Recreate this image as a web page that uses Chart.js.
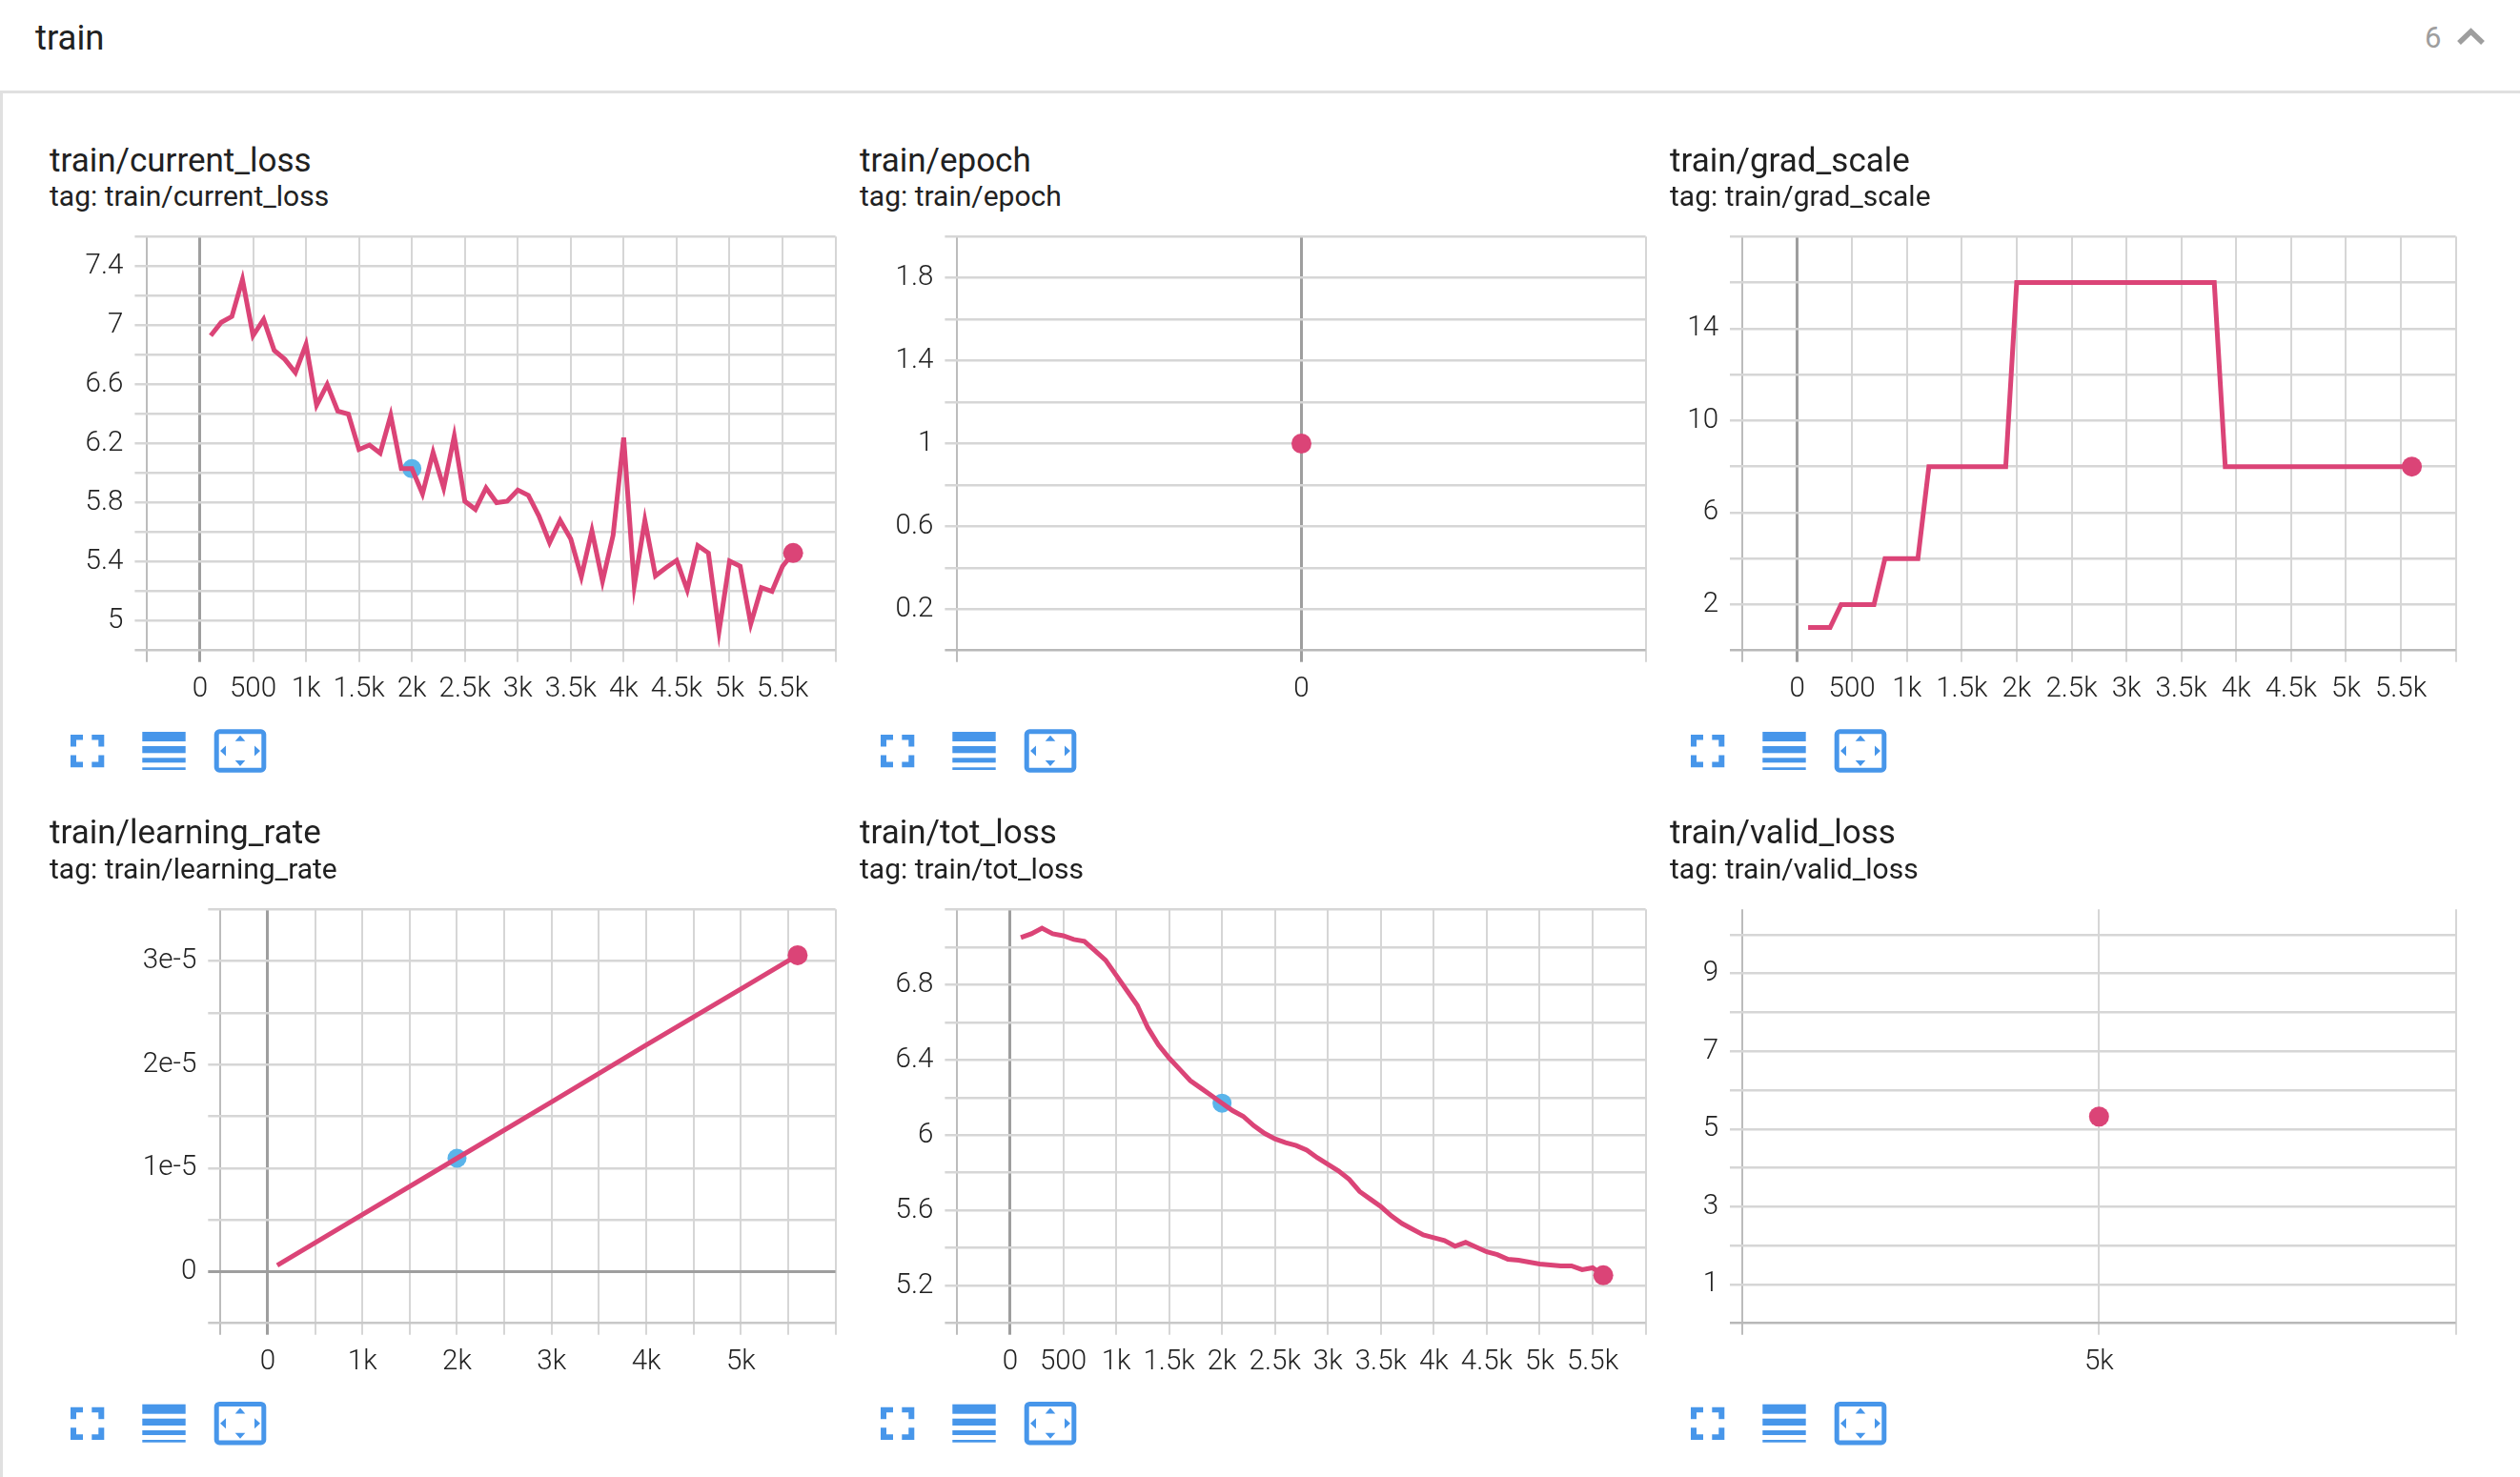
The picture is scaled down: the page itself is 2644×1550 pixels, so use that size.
<!DOCTYPE html>
<html>
<head>
<meta charset="utf-8">
<title>train</title>
<script src="https://cdn.jsdelivr.net/npm/chart.js@4"></script>
<style>
  html, body { margin: 0; padding: 0; background: #fff; width: 2644px; height: 1550px; overflow: hidden; font-family: Roboto, sans-serif; color: #212121; }
  .txt { position: absolute; white-space: nowrap; line-height: 40px; }
  canvas { position: absolute; }
  svg { position: absolute; left: 0; top: 0; }
  #headLine { position: absolute; left: 0; top: 95px; width: 2644px; height: 2.5px; background: #e0e0e0; }
  #leftLine { position: absolute; left: 0; top: 96px; width: 2.5px; height: 1454px; background: #e0e0e0; }
</style>
</head>
<body>
<div class="txt" style="left:37px;top:19.5px;font-size:36.5px">train</div>
<div class="txt" style="left:2544px;top:20px;font-size:31px;color:#9e9e9e">6</div>
<svg width="2644" height="100" style="z-index:1"><polyline points="2580,45 2592.5,33 2605,45" fill="none" stroke="#9e9e9e" stroke-width="5.5"/></svg>
<div id="headLine"></div>
<div id="leftLine"></div>
<div id="board"></div>

<script>
// оси
const stepTicks = [-500, 0, 500, 1000, 1500, 2000, 2500, 3000, 3500, 4000, 4500, 5000, 5500, 6000];
const stepLabels = ['', '0', '500', '1k', '1.5k', '2k', '2.5k', '3k', '3.5k', '4k', '4.5k', '5k', '5.5k', ''];
const stepLabelsWide = ['', '0', '', '1k', '', '2k', '', '3k', '', '4k', '', '5k', '', ''];

// train/current_loss
const currentSteps = [100, 200, 300, 400, 500, 600, 700, 800, 900, 1000, 1100, 1200, 1300, 1400, 1500, 1600, 1700, 1800, 1900, 2000, 2100, 2200, 2300, 2400, 2500, 2600, 2700, 2800, 2900, 3000, 3100, 3200, 3300, 3400, 3500, 3600, 3700, 3800, 3900, 4000, 4100, 4200, 4300, 4400, 4500, 4600, 4700, 4800, 4900, 5000, 5100, 5200, 5300, 5400, 5500, 5600];
const currentLoss = [6.93, 7.02, 7.06, 7.31, 6.93, 7.04, 6.83, 6.77, 6.68, 6.87, 6.46, 6.60, 6.42, 6.40, 6.16, 6.19, 6.135, 6.39, 6.03, 6.03, 5.86, 6.14, 5.90, 6.25, 5.81, 5.755, 5.90, 5.80, 5.81, 5.885, 5.85, 5.71, 5.53, 5.68, 5.555, 5.30, 5.61, 5.27, 5.58, 6.24, 5.24, 5.68, 5.305, 5.36, 5.41, 5.21, 5.51, 5.46, 4.93, 5.405, 5.37, 4.98, 5.225, 5.20, 5.37, 5.46];
const currentYTicks = [4.8, 5, 5.2, 5.4, 5.6, 5.8, 6, 6.2, 6.4, 6.6, 6.8, 7, 7.2, 7.4, 7.6];
const currentYLabels = ['', '5', '', '5.4', '', '5.8', '', '6.2', '', '6.6', '', '7', '', '7.4', ''];

// train/epoch
const epochXTicks = [-1, 0, 1];
const epochXLabels = ['', '0', ''];
const epochSteps = [0];
const epochValues = [1];
const epochYTicks = [0, 0.2, 0.4, 0.6, 0.8, 1, 1.2, 1.4, 1.6, 1.8, 2];
const epochYLabels = ['', '0.2', '', '0.6', '', '1', '', '1.4', '', '1.8', ''];

// train/grad_scale
const gradSteps = [100, 300, 400, 700, 800, 1100, 1200, 1900, 2000, 3800, 3900, 5600];
const gradScale = [1, 1, 2, 2, 4, 4, 8, 8, 16, 16, 8, 8];
const gradYTicks = [0, 2, 4, 6, 8, 10, 12, 14, 16, 18];
const gradYLabels = ['', '2', '', '6', '', '10', '', '14', '', ''];

// train/learning_rate
const lrSteps = [100, 1000, 2000, 3000, 4000, 5000, 5600];
const learningRate = [0.06e-5, 0.55e-5, 1.095e-5, 1.64e-5, 2.19e-5, 2.73e-5, 3.057e-5];
const lrYTicks = [-0.5e-5, 0, 0.5e-5, 1e-5, 1.5e-5, 2e-5, 2.5e-5, 3e-5, 3.5e-5];
const lrYLabels = ['', '0', '', '1e-5', '', '2e-5', '', '3e-5', ''];

// train/tot_loss
const totLoss = [7.05, 7.07, 7.10, 7.07, 7.06, 7.04, 7.03, 6.98, 6.93, 6.85, 6.77, 6.69, 6.57, 6.48, 6.41, 6.35, 6.29, 6.25, 6.21, 6.17, 6.13, 6.10, 6.05, 6.01, 5.98, 5.96, 5.945, 5.92, 5.88, 5.845, 5.81, 5.765, 5.70, 5.66, 5.62, 5.57, 5.53, 5.50, 5.47, 5.455, 5.44, 5.41, 5.43, 5.405, 5.38, 5.365, 5.34, 5.335, 5.325, 5.315, 5.31, 5.305, 5.305, 5.285, 5.295, 5.255];
const totYTicks = [5, 5.2, 5.4, 5.6, 5.8, 6, 6.2, 6.4, 6.6, 6.8, 7, 7.2];
const totYLabels = ['', '5.2', '', '5.6', '', '6', '', '6.4', '', '6.8', '', ''];

// train/valid_loss
const validXTicks = [4500, 5000, 5500];
const validXLabels = ['', '5k', ''];
const validSteps = [5000];
const validLoss = [5.32];
const validYTicks = [0, 1, 2, 3, 4, 5, 6, 7, 8, 9, 10];
const validYLabels = ['', '1', '', '3', '', '5', '', '7', '', '9', ''];

const ROW_GAP = 705.7;
const PANEL_GAP = 850;
const LINE_COLOR = '#db4477';
const HOVER_COLOR = '#5ab4ea';
const ICON_COLOR = '#4796ea';

const board = document.getElementById('board');

function addText(left, top, size, text) {
    const el = document.createElement('div');
    el.className = 'txt';
    el.style.left = left + 'px';
    el.style.top = top + 'px';
    el.style.fontSize = size + 'px';
    el.textContent = text;
    board.appendChild(el);
}

// кнопки под графиком
function addIcons(dx, dy) {
    const s = `<svg width="2644" height="1550" fill="${ICON_COLOR}">
      <g transform="translate(${dx},${dy})">
        <path d="M74 771h13v5.5h-7v7h-6zM96.3 771h13v12.5h-6v-7h-7zM74 792.5h6v7h7v5.8H74zM103.3 792.5h6v12.8h-13v-5.8h7z"/>
        <rect x="149.3" y="768" width="45.4" height="10"/>
        <rect x="149.3" y="783" width="45.4" height="7.3"/>
        <rect x="149.3" y="795.3" width="45.4" height="5"/>
        <rect x="149.3" y="805.3" width="45.4" height="2.7"/>
        <rect x="227.2" y="767.8" width="49.6" height="40.4" rx="3" fill="none" stroke="${ICON_COLOR}" stroke-width="5"/>
        <path d="M252 771.7l5.3 6h-10.6zM252 804l5.3-6h-10.6zM231 788l6-5.5v11zM273 788l-6-5.5v11z"/>
      </g></svg>`;
    board.insertAdjacentHTML('beforeend', s);
}

function pairs(xs, ys) {
    return xs.map((x, i) => ({ x: x, y: ys[i] }));
}

function gridColor(ctx) {
    if (ctx.tick.value !== 0) return ctx.index === 0 ? '#c8c8c8' : '#d6d6d6';
    return ctx.index === 0 ? '#b8b8b8' : '#9e9e9e';
}

function makeChart(col, row, name, plotLeft, p) {
    const dx = col * PANEL_GAP;
    const dy = row * ROW_GAP;
    addText(52 + dx, 148.5 + dy, 35, name);
    addText(52 + dx, 186 + dy, 30, 'tag: ' + name);
    addIcons(dx, dy);

    const canvas = document.createElement('canvas');
    canvas.width = 860;
    canvas.height = 515;
    canvas.style.left = (30 + dx) + 'px';
    canvas.style.top = (230 + dy) + 'px';
    canvas.style.width = '860px';
    canvas.style.height = '515px';
    board.appendChild(canvas);

    const datasets = [];
    if (p.xs.length > 1) {
        datasets.push({ data: pairs(p.xs, p.ys), borderColor: LINE_COLOR, borderWidth: 5, pointRadius: 0, showLine: true, order: 2 });
        if (p.hover) {
            datasets.push({ data: [p.hover], pointBackgroundColor: HOVER_COLOR, pointRadius: 10, pointBorderWidth: 0, order: 3 });
        }
    }
    const last = p.xs.length - 1;
    datasets.push({ data: [{ x: p.xs[last], y: p.ys[last] }], pointBackgroundColor: LINE_COLOR, pointRadius: 10.5, pointBorderWidth: 0, order: 1 });

    const tickFont = { family: 'Roboto', size: 29.5, weight: '300' };

    return new Chart(canvas, {
        type: 'scatter',
        data: { datasets: datasets },
        options: {
            responsive: false,
            devicePixelRatio: 1,
            animation: false,
            layout: { padding: { top: 18.3, right: 13.4, left: 0, bottom: 0 } },
            plugins: { legend: { display: false }, tooltip: { enabled: false } },
            scales: {
                x: {
                    type: 'linear',
                    min: p.xTicks[0],
                    max: p.xTicks[p.xTicks.length - 1],
                    border: { display: false },
                    grid: {
                        color: ctx => ctx.tick.value === 0 ? '#9e9e9e' : (ctx.index === 0 ? '#bcbcbc' : '#d6d6d6'),
                        lineWidth: ctx => ctx.tick.value === 0 ? 3 : 2,
                        tickLength: 12
                    },
                    ticks: { autoSkip: false, maxRotation: 0, font: tickFont, color: '#212121', padding: 11, callback: (v, i) => p.xLabels[i] },
                    afterBuildTicks: s => { s.ticks = p.xTicks.map(v => ({ value: v })); },
                    afterFit: s => { s.height = 62.3; s.paddingLeft = 0; s.paddingRight = 0; }
                },
                y: {
                    type: 'linear',
                    min: p.yMin !== undefined ? p.yMin : p.yTicks[0],
                    max: p.yMax !== undefined ? p.yMax : p.yTicks[p.yTicks.length - 1],
                    border: { display: false },
                    grid: {
                        color: gridColor,
                        lineWidth: ctx => (ctx.tick.value === 0 && ctx.index !== 0) ? 3 : 2.5,
                        tickLength: 13
                    },
                    ticks: { autoSkip: false, font: tickFont, color: '#212121', padding: 12, callback: (v, i) => p.yLabels[i] },
                    afterBuildTicks: s => { s.ticks = p.yTicks.map(v => ({ value: v })); },
                    afterFit: s => { s.width = plotLeft - 30; s.paddingTop = 0; s.paddingBottom = 0; }
                }
            }
        }
    });
}

makeChart(0, 0, 'train/current_loss', 154.4, { xs: currentSteps, ys: currentLoss, hover: { x: 2000, y: 6.03 }, xTicks: stepTicks, xLabels: stepLabels, yTicks: currentYTicks, yLabels: currentYLabels });
makeChart(1, 0, 'train/epoch', 154.4, { xs: epochSteps, ys: epochValues, xTicks: epochXTicks, xLabels: epochXLabels, yTicks: epochYTicks, yLabels: epochYLabels });
makeChart(2, 0, 'train/grad_scale', 128, { xs: gradSteps, ys: gradScale, xTicks: stepTicks, xLabels: stepLabels, yTicks: gradYTicks, yLabels: gradYLabels });
makeChart(0, 1, 'train/learning_rate', 231.3, { xs: lrSteps, ys: learningRate, hover: { x: 2000, y: 1.095e-5 }, xTicks: stepTicks, xLabels: stepLabelsWide, yTicks: lrYTicks, yLabels: lrYLabels });
makeChart(1, 1, 'train/tot_loss', 154.4, { xs: currentSteps, ys: totLoss, hover: { x: 2000, y: 6.17 }, xTicks: stepTicks, xLabels: stepLabels, yTicks: totYTicks, yLabels: totYLabels });
makeChart(2, 1, 'train/valid_loss', 128, { xs: validSteps, ys: validLoss, xTicks: validXTicks, xLabels: validXLabels, yTicks: validYTicks, yLabels: validYLabels, yMin: 0, yMax: 10.65 });
</script>
</body>
</html>
